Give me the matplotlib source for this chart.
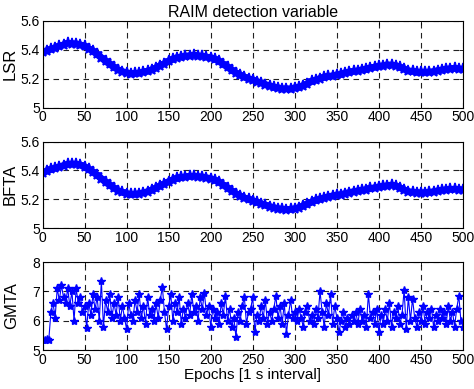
import numpy as np
import matplotlib
matplotlib.use("Agg")
import matplotlib.pyplot as plt

plt.rcParams['font.family'] = ['Liberation Sans', 'DejaVu Sans']

# ---- data ----
epochs_smooth = list(range(0, 501, 5))
lsr = [5.385, 5.392, 5.404, 5.413, 5.426, 5.434, 5.446, 5.443, 5.442, 5.434,
       5.426, 5.409, 5.391, 5.368, 5.346, 5.321, 5.301, 5.279, 5.262, 5.249,
       5.241, 5.234, 5.236, 5.239, 5.246, 5.251, 5.261, 5.274, 5.291, 5.304,
       5.321, 5.334, 5.346, 5.349, 5.356, 5.359, 5.362, 5.358, 5.356, 5.349,
       5.346, 5.334, 5.321, 5.299, 5.281, 5.259, 5.241, 5.224, 5.211, 5.199,
       5.191, 5.179, 5.171, 5.159, 5.151, 5.139, 5.136, 5.129, 5.131, 5.128,
       5.136, 5.139, 5.151, 5.164, 5.181, 5.189, 5.201, 5.209, 5.216, 5.219,
       5.226, 5.229, 5.241, 5.244, 5.251, 5.254, 5.261, 5.264, 5.276, 5.279,
       5.286, 5.289, 5.296, 5.294, 5.291, 5.279, 5.266, 5.254, 5.251, 5.244,
       5.246, 5.244, 5.246, 5.249, 5.256, 5.259, 5.266, 5.269, 5.271, 5.268,
       5.266]
bfta = [5.382, 5.394, 5.406, 5.414, 5.424, 5.433, 5.441, 5.444, 5.443, 5.437,
        5.424, 5.406, 5.388, 5.366, 5.343, 5.318, 5.298, 5.277, 5.259, 5.247,
        5.239, 5.233, 5.235, 5.238, 5.244, 5.252, 5.262, 5.276, 5.292, 5.306,
        5.322, 5.333, 5.344, 5.351, 5.355, 5.358, 5.359, 5.357, 5.354, 5.348,
        5.342, 5.331, 5.318, 5.298, 5.278, 5.258, 5.239, 5.222, 5.209, 5.198,
        5.188, 5.178, 5.168, 5.158, 5.149, 5.141, 5.134, 5.131, 5.128, 5.129,
        5.134, 5.141, 5.152, 5.166, 5.179, 5.191, 5.199, 5.208, 5.217, 5.222,
        5.228, 5.232, 5.239, 5.246, 5.252, 5.256, 5.262, 5.266, 5.274, 5.279,
        5.284, 5.288, 5.294, 5.297, 5.292, 5.278, 5.264, 5.253, 5.248, 5.246,
        5.244, 5.246, 5.247, 5.252, 5.257, 5.262, 5.266, 5.268, 5.269, 5.267,
        5.265]

epochs_gmta = list(np.arange(0, 500.1, 2.5))
gmta = [5.35, 5.35, 5.36, 5.35, 6.3, 6.6, 6.1, 7.1, 6.7, 7.2, 6.8, 6.6, 7.1, 6.5, 7.0, 6.0, 7.1, 6.6, 6.8, 6.3,
        6.5, 5.75, 6.6, 6.2, 6.9, 6.4, 6.8, 6.0, 7.35, 5.8, 6.7, 6.3, 6.9, 6.1, 6.6, 6.2, 6.8, 6.0, 6.5, 6.1,
        5.7, 6.6, 6.2, 6.0, 6.7, 6.3, 6.9, 6.1, 6.5, 5.9, 6.8, 6.2, 6.4, 6.0, 6.6, 6.1, 6.7, 7.15, 6.3, 5.7,
        6.5, 6.9, 6.0, 6.6, 6.3, 6.8, 5.9, 6.4, 6.1, 6.6, 6.2, 6.9, 6.3, 6.5, 6.0, 6.8, 6.4, 6.95, 6.2, 6.5,
        5.8, 6.4, 6.1, 6.3, 5.9, 6.6, 6.2, 6.85, 6.0, 6.4, 5.8, 6.1, 5.45, 6.3, 6.0, 6.5, 6.8, 5.9, 6.3, 6.4,
        6.8, 5.6, 6.2, 6.0, 6.5, 6.1, 6.7, 5.9, 6.3, 6.0, 6.4, 6.85, 6.1, 6.5, 5.9, 6.6, 5.55, 6.2, 6.7, 6.1,
        6.3, 6.0, 6.4, 6.1, 5.8, 6.3, 6.5, 6.0, 6.2, 5.9, 6.4, 6.1, 7.0, 6.3, 5.8, 6.6, 6.2, 6.9, 5.9, 6.5,
        6.1, 5.6, 6.0, 6.3, 5.8, 6.1, 5.9, 6.2, 6.0, 6.3, 5.9, 6.4, 6.0, 6.2, 5.8, 6.9, 6.1, 6.3, 5.9, 6.4,
        5.6, 6.2, 5.9, 6.4, 6.0, 6.6, 5.8, 6.3, 6.1, 6.5, 5.9, 6.2, 7.05, 5.7, 6.8, 6.0, 6.75, 6.1, 5.8, 6.3,
        6.0, 6.5, 5.9, 6.3, 6.1, 6.4, 5.8, 6.2, 6.0, 6.4, 6.1, 6.3, 5.9, 6.5, 6.0, 6.3, 5.8, 6.4, 6.85, 6.0,
        5.8]

xticks = [0, 50, 100, 150, 200, 250, 300, 350, 400, 450, 500]
yticks_top = [5, 5.2, 5.4, 5.6]
yticklabels_top = ['5', '5.2', '5.4', '5.6']
yticks_gmta = [5, 6, 7, 8]

# ---- figure ----
W, H = 474, 389
fig = plt.figure(figsize=(W / 100, H / 100), dpi=100)
left = 42.5 / W
width = 420.5 / W

def rect(top_px, bot_px):
    return [left, (H - bot_px) / H, width, (bot_px - top_px) / H]

ax1 = fig.add_axes(rect(21, 107.5))
ax2 = fig.add_axes(rect(141.5, 228))
ax3 = fig.add_axes(rect(262, 350))

blue = '#0000ff'
ax1.plot(epochs_smooth, lsr, '-*', color=blue, markersize=8, linewidth=5, markeredgewidth=1.2)
ax2.plot(epochs_smooth, bfta, '-*', color=blue, markersize=8, linewidth=5, markeredgewidth=1.2)
ax3.plot(epochs_gmta, gmta, '-*', color=blue, markersize=6, linewidth=0.8, markeredgewidth=1.0)

for ax in (ax1, ax2, ax3):
    ax.set_xlim(0, 500)
    ax.set_xticks(xticks)
    ax.grid(True, color='#222222', linestyle=(0, (5, 4)), linewidth=0.8)
    ax.tick_params(direction='in', length=3, width=0.6, labelsize=10, top=True, right=True, pad=2)
    for s in ax.spines.values():
        s.set_linewidth(0.8)

for ax in (ax1, ax2):
    ax.set_ylim(5, 5.6)
    ax.set_yticks(yticks_top)
    ax.set_yticklabels(yticklabels_top)

ax3.set_ylim(5, 8)
ax3.set_yticks(yticks_gmta)

ax1.set_ylabel('LSR', fontsize=12, labelpad=2)
ax2.set_ylabel('BFTA', fontsize=12, labelpad=2)
ax3.set_ylabel('GMTA', fontsize=12, labelpad=9)
ax3.set_xlabel('Epochs [1 s interval]', fontsize=11, labelpad=1)
ax1.set_title('RAIM detection variable', fontsize=11.5, pad=3)

fig.savefig('out.png', dpi=100)
